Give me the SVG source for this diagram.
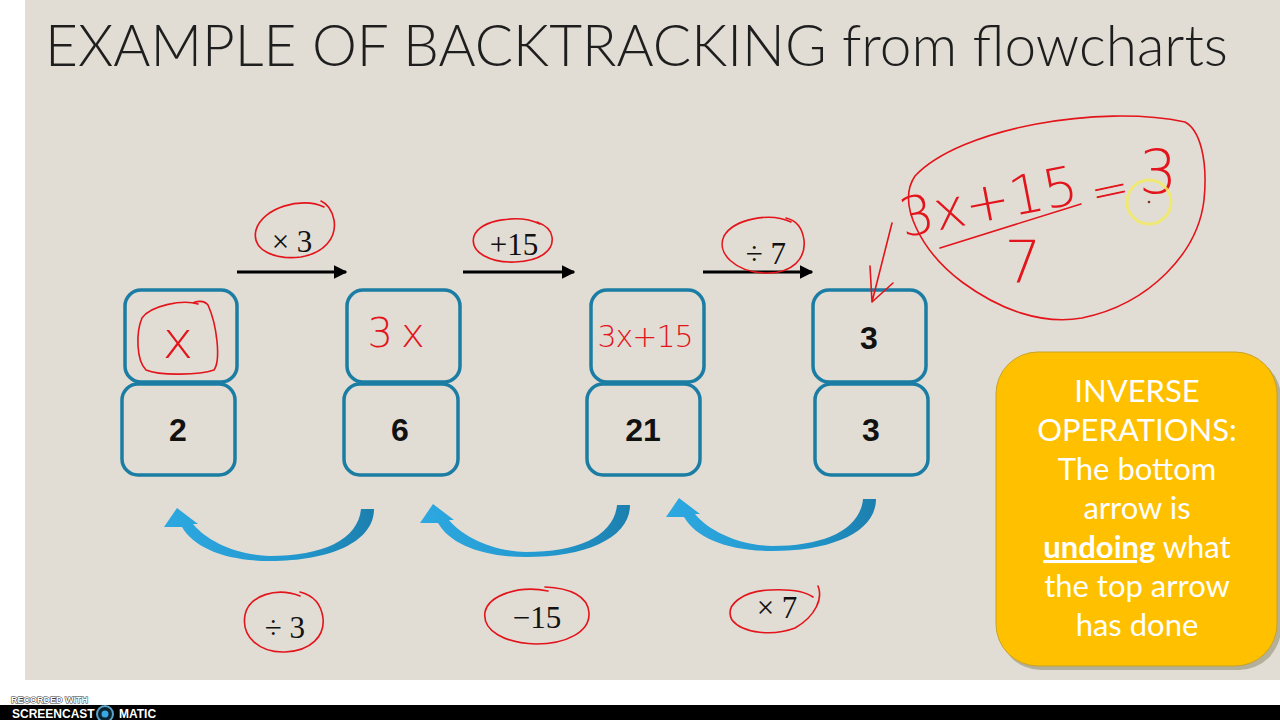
<svg xmlns="http://www.w3.org/2000/svg" width="1280" height="720" viewBox="0 0 1280 720">
<defs>
<style>
.box{fill:none;stroke:#1B7DA3;stroke-width:3.5}
.num{font-family:"Liberation Sans",Arial,sans-serif;font-weight:bold;font-size:32px;fill:#111;text-anchor:middle}
.op{font-family:"Liberation Serif","Times New Roman",serif;font-size:31px;fill:#111;text-anchor:middle}
.ink{fill:none;stroke:#E3141B;stroke-width:1.6;stroke-linecap:round;stroke-linejoin:round}
.hw{font-family:"DejaVu Sans","Liberation Sans",sans-serif;font-weight:200;fill:#E3141B}
.flow{stroke:#000;stroke-width:3;fill:none}
.yt{font-family:"Lato","Liberation Sans",Arial,sans-serif;font-weight:400;font-size:31px;fill:#fff;text-anchor:middle}
.back{fill:url(#blueg)}
</style>
<linearGradient id="blueg" x1="0" y1="0" x2="1" y2="0">
<stop offset="0" stop-color="#2DA8E0"/>
<stop offset="0.6" stop-color="#2399CF"/>
<stop offset="1" stop-color="#1C7FAE"/>
</linearGradient>
<marker id="ah" viewBox="0 0 10 10" refX="9" refY="5" markerWidth="4.5" markerHeight="4.5" orient="auto" markerUnits="strokeWidth">
<path d="M0,0 L10,5 L0,10 Z" fill="#000"/>
</marker>
<path id="backarrow" d="M374,509 C374,542 330,561 270,561 C226,561 194,548 182,527 L164,527 L177,508 L198,524 L193,524 C207,541 236,555 270,556 C322,556 358,540 361,509 Z"/>
</defs>
<rect x="0" y="0" width="1280" height="720" fill="#FFFFFF"/>
<rect x="25" y="0" width="1255" height="680" fill="#E1DDD4"/>
<rect x="0" y="705" width="1280" height="15" fill="#000"/>

<text x="45" y="66" font-family="Lato,Liberation Sans,Arial,sans-serif" font-weight="300" font-size="58" fill="#1E1E1E" textLength="1183" lengthAdjust="spacingAndGlyphs">EXAMPLE OF BACKTRACKING from flowcharts</text>

<g id="connectors">
<line class="flow" x1="237" y1="272" x2="346" y2="272" marker-end="url(#ah)"/>
<line class="flow" x1="463" y1="272" x2="574" y2="272" marker-end="url(#ah)"/>
<line class="flow" x1="703" y1="272" x2="812" y2="272" marker-end="url(#ah)"/>
<use id="back1" href="#backarrow" class="back"/>
<use id="back2" href="#backarrow" class="back" transform="translate(256,-4)"/>
<use id="back3" href="#backarrow" class="back" transform="translate(502,-10)"/>
</g>

<g id="node1">
<rect class="box" x="125" y="290" width="112" height="92" rx="16"/>
<rect class="box" x="122" y="384" width="113" height="91" rx="16"/>
<text class="num" x="178" y="441">2</text>
</g>
<g id="node2">
<rect class="box" x="347" y="290" width="113" height="92" rx="16"/>
<rect class="box" x="344" y="384" width="114" height="91" rx="16"/>
<text class="num" x="400" y="441">6</text>
</g>
<g id="node3">
<rect class="box" x="591" y="290" width="113" height="92" rx="16"/>
<rect class="box" x="587" y="384" width="113" height="91" rx="16"/>
<text class="num" x="643" y="441">21</text>
</g>
<g id="node4">
<rect class="box" x="813" y="290" width="113" height="92" rx="16"/>
<rect class="box" x="815" y="384" width="113" height="91" rx="16"/>
<text class="num" x="869" y="349">3</text>
<text class="num" x="871" y="441">3</text>
</g>

<g id="op-labels">
<text class="op" x="292" y="252">× 3</text>
<text class="op" x="514" y="255">+15</text>
<text class="op" x="766" y="264">÷ 7</text>
<text class="op" x="285" y="638">÷ 3</text>
<text class="op" x="537" y="628">−15</text>
<text class="op" x="777" y="618">× 7</text>
</g>

<g id="yellow-note">
<rect x="999" y="356" width="282" height="314" rx="42" fill="#8C8A6A" opacity="0.55"/>
<rect x="996" y="352" width="281" height="314" rx="42" fill="#FFC000" stroke="#C9A227" stroke-width="1"/>
<text class="yt" x="1137" y="402">INVERSE</text>
<text class="yt" x="1137" y="441">OPERATIONS:</text>
<text class="yt" x="1137" y="480">The bottom</text>
<text class="yt" x="1137" y="519">arrow is</text>
<text class="yt" x="1137" y="558"><tspan font-weight="bold" text-decoration="underline">undoing</tspan> what</text>
<text class="yt" x="1137" y="597">the top arrow</text>
<text class="yt" x="1137" y="636">has done</text>
</g>

<g id="handwriting">
<path class="ink" d="M324,207 C302,196 262,208 256,230 C251,251 276,260 301,257 C324,253 337,238 334,220 C332,210 328,204 321,201"/>
<path class="ink" d="M540,224 C520,214 481,219 474,236 C469,253 492,263 515,262 C541,261 554,250 552,237 C551,229 545,225 537,222"/>
<path class="ink" d="M791,222 C770,212 734,219 724,236 C716,253 735,272 765,273 C793,274 806,258 804,240 C802,226 795,220 786,218"/>
<path class="ink" d="M198,304 C182,299 150,306 142,318 C136,332 136,360 146,370 C160,376 200,375 214,370 C221,360 217,325 208,305 C204,300 196,301 193,303"/>
<path class="ink" d="M300,596 C277,587 249,595 245,615 C241,637 260,653 285,652 C311,651 325,636 323,618 C321,603 312,595 300,592"/>
<path class="ink" d="M548,591 C519,585 489,595 485,612 C482,631 505,643 536,644 C566,644 590,632 589,613 C588,596 570,588 545,587"/>
<path class="ink" d="M818,586 C823,598 816,616 795,628 C774,636 743,634 732,620 C724,605 743,591 770,590 C791,589 806,592 813,597"/>
<path class="ink" d="M1185,122 C1100,104 960,128 915,176 C896,204 922,252 962,282 C1000,310 1042,325 1082,318 C1150,304 1198,252 1204,200 C1208,160 1200,130 1185,122"/>
<path class="ink" d="M892,223 L872,302 M872,302 L870,266 M872,302 L893,283"/>
<path class="ink" d="M940,248 L1081,204" stroke-width="2"/>
<text class="hw" x="178" y="358" font-size="52" text-anchor="middle">x</text>
<text class="hw" x="400" y="347" font-size="40" text-anchor="middle" letter-spacing="8">3x</text>
<text class="hw" x="645" y="347" font-size="30" text-anchor="middle" letter-spacing="-1">3x+15</text>
<text class="hw" x="992" y="220" font-size="54" text-anchor="middle" transform="rotate(-11 992 220)">3x+15</text>
<text class="hw" x="1023" y="283" font-size="58" text-anchor="middle">7</text>
<text class="hw" x="1113" y="205" font-size="46" text-anchor="middle" transform="rotate(-12 1113 205)">=</text>
<text class="hw" x="1158" y="193" font-size="60" text-anchor="middle">3</text>
</g>

<g id="cursor">
<circle cx="1149" cy="202" r="22" fill="none" stroke="#F2EC5A" stroke-width="3" opacity="0.8"/>
<circle cx="1149" cy="202" r="1.3" fill="#803020"/>
</g>

<g id="watermark">
<text x="11" y="703" font-family="Liberation Sans,Arial,sans-serif" font-size="9" font-weight="bold" fill="#fff" stroke="#333" stroke-width="1" paint-order="stroke">RECORDED WITH</text>
<text x="12" y="718" font-family="Liberation Sans,Arial,sans-serif" font-size="12" font-weight="bold" fill="#fff">SCREENCAST</text>
<circle cx="105" cy="714" r="8" fill="#0a2430" stroke="#5aa0c8" stroke-width="2"/>
<circle cx="105" cy="714" r="3.5" fill="#3aa6e6"/>
<text x="119" y="718" font-family="Liberation Sans,Arial,sans-serif" font-size="12" font-weight="bold" fill="#fff">MATIC</text>
</g>
</svg>
